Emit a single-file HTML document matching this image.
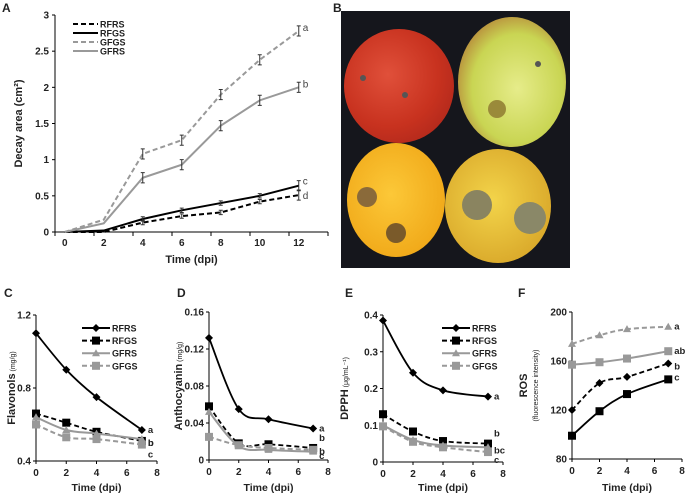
<!DOCTYPE html>
<html><head><meta charset="utf-8"><style>
body{margin:0;background:#fff;}
svg{display:block;font-family:"Liberation Sans",Arial,sans-serif;}
.t{font-weight:bold;font-size:10px;fill:#222;}
</style></head><body>
<svg id="fig" width="685" height="498">
<defs>
<radialGradient id="gRed" cx="40%" cy="40%" r="65%"><stop offset="0" stop-color="#e0503a"/><stop offset="0.7" stop-color="#c8321f"/><stop offset="1" stop-color="#b52a1c"/></radialGradient>
<radialGradient id="gGreen" cx="55%" cy="55%" r="60%"><stop offset="0" stop-color="#e6ec8a"/><stop offset="0.7" stop-color="#c9d553"/><stop offset="1" stop-color="#b78a3a"/></radialGradient>
<radialGradient id="gYel" cx="45%" cy="45%" r="60%"><stop offset="0" stop-color="#fcc838"/><stop offset="1" stop-color="#f0a818"/></radialGradient>
<radialGradient id="gYel2" cx="45%" cy="45%" r="60%"><stop offset="0" stop-color="#f3d44a"/><stop offset="1" stop-color="#d9a82a"/></radialGradient>
</defs>
<g>
<rect x="341" y="11" width="229" height="257" fill="#15161c"/>
<ellipse cx="399" cy="86" rx="55" ry="57" fill="url(#gRed)"/>
<ellipse cx="512" cy="82" rx="54" ry="65" fill="url(#gGreen)"/>
<ellipse cx="396" cy="200" rx="49" ry="57" fill="url(#gYel)"/>
<ellipse cx="498" cy="206" rx="53" ry="57" fill="url(#gYel2)"/>
<circle cx="363" cy="78" r="3" fill="#555"/><circle cx="405" cy="95" r="3" fill="#555"/>
<circle cx="538" cy="64" r="3" fill="#555"/><circle cx="497" cy="109" r="9" fill="#9a8a3a"/>
<circle cx="367" cy="197" r="10" fill="#8a6a3a"/><circle cx="396" cy="233" r="10" fill="#7a5a2a"/>
<circle cx="477" cy="205" r="15" fill="#8a8460"/><circle cx="530" cy="218" r="16" fill="#8a8868"/>
</g>
<text x="2" y="12" class="t" font-size="12" style="font-size:12px">A</text>
<text x="333" y="12" class="t" style="font-size:12px">B</text>
<text x="4" y="297" class="t" style="font-size:12px">C</text>
<text x="177" y="297" class="t" style="font-size:12px">D</text>
<text x="345" y="297" class="t" style="font-size:12px">E</text>
<text x="518" y="297" class="t" style="font-size:12px">F</text>
</svg>
<script>
// Panel A data
const aCategories=[0,2,4,6,8,10,12];
const aRFRS=[0,0,0.13,0.22,0.27,0.42,0.51];
const aRFGS=[0,0.02,0.18,0.30,0.40,0.50,0.64];
const aGFGS=[0,0.17,1.08,1.27,1.90,2.38,2.78];
const aGFRS=[0,0.12,0.75,0.93,1.47,1.82,2.00];
const aYTicks=[0,0.5,1,1.5,2,2.5,3];
const aLetters=['d','c','a','b'];
// Panels C-F share x
const cdefX=[0,2,4,7];
const xTicks8=[0,2,4,6,8];
const cRFRS=[1.10,0.90,0.75,0.57], cRFGS=[0.66,0.61,0.56,0.51], cGFRS=[0.64,0.57,0.55,0.52], cGFGS=[0.60,0.53,0.52,0.49];
const cYTicks=[0.4,0.8,1.2];
const dRFRS=[0.132,0.055,0.044,0.034], dRFGS=[0.058,0.018,0.017,0.013], dGFRS=[0.052,0.015,0.011,0.009], dGFGS=[0.025,0.016,0.013,0.011];
const dYTicks=[0,0.04,0.08,0.12,0.16];
const eRFRS=[0.385,0.243,0.195,0.178], eRFGS=[0.130,0.083,0.057,0.050], eGFRS=[0.100,0.060,0.045,0.040], eGFGS=[0.097,0.055,0.040,0.027];
const eYTicks=[0,0.1,0.2,0.3,0.4];
const fRFRS=[120,142,147,158], fRFGS=[99,119,133,145], fGFRS=[157,159,162,168], fGFGS=[174,181,186,188];
const fYTicks=[80,120,160,200];

const svg=document.getElementById('fig');
const NS='http://www.w3.org/2000/svg';
function mk(tag,attrs,parent){const e=document.createElementNS(NS,tag);for(const k in attrs)e.setAttribute(k,attrs[k]);(parent||svg).appendChild(e);return e;}
function txt(x,y,s,attrs,parent){const e=mk('text',Object.assign({x:x,y:y,'font-size':10,'font-weight':'bold',fill:'#222'},attrs||{}),parent);e.textContent=s;return e;}

// ---- Panel A ----
(function(){
 const g=mk('g',{});
 
 
 const x0=55,x1=328,yTop=15,yBot=232,ymax=3;
 const step=(x1-x0)/7;
 const xs=i=>x0+step*(i+0.25);
 const ys=v=>yBot-(v/ymax)*(yBot-yTop);
 mk('line',{x1:x0,y1:yTop,x2:x0,y2:yBot,stroke:'#000'},g);
 mk('line',{x1:x0,y1:yBot,x2:x1,y2:yBot,stroke:'#000'},g);
 aYTicks.forEach(v=>{mk('line',{x1:x0-3,y1:ys(v),x2:x0,y2:ys(v),stroke:'#000'},g);
  const t=txt(x0-6,ys(v)+3.5,String(v),{'text-anchor':'end'},g);});
 for(let i=0;i<=7;i++)mk('line',{x1:x0+step*i,y1:yBot,x2:x0+step*i,y2:yBot+4,stroke:'#000'},g);
 aCategories.forEach((c,i)=>{const t=txt(xs(i),246,String(c),{'text-anchor':'middle'},g);});
 const xt=txt((x0+x1)/2,263,'Time (dpi)',{'text-anchor':'middle','font-size':11},g);
 
 const yt=txt(0,0,'Decay area (cm²)',{'text-anchor':'middle','font-size':11,transform:'translate(22,'+((yTop+yBot)/2)+') rotate(-90)'},g);
 
 const series=[[aRFRS,'#000','5,3','RFRS'],[aRFGS,'#000','','RFGS'],[aGFGS,'#999','5,3','GFGS'],[aGFRS,'#999','','GFRS']];
 series.forEach((s,si)=>{
  const pts=s[0].map((v,i)=>xs(i)+','+ys(v)).join(' ');
  const p=mk('polyline',{points:pts,fill:'none',stroke:s[1],'stroke-width':2,'stroke-dasharray':s[2]},g);
  
  s[0].forEach((v,i)=>{if(i<2)return;const e=v>0.5?0.07:0.03;
   mk('path',{d:`M${xs(i)-2},${ys(v+e)}h4M${xs(i)},${ys(v+e)}V${ys(v-e)}M${xs(i)-2},${ys(v-e)}h4`,stroke:'#333','stroke-width':1,fill:'none'},g);});
  const last=s[0][s[0].length-1];
  const l=txt(xs(6)+4,ys(last)+(si==0?4:si==1?-1:0),aLetters[si],{'font-weight':'normal','font-size':10,fill:'#444'},g);
  
  const ly=24+si*9;
  const ll=mk('line',{x1:73,y1:ly,x2:98,y2:ly,stroke:s[1],'stroke-width':2,'stroke-dasharray':s[2]},g);
  
  const lt=txt(100,ly+3.5,s[3],{'font-size':9},g);
 });
})();

// ---- Panels C-F ----
function marker(g,type,x,y,color){
 if(type=='d')mk('path',{d:`M${x},${y-4}L${x+4},${y}L${x},${y+4}L${x-4},${y}Z`,fill:color},g);
 else if(type=='s')mk('rect',{x:x-4,y:y-4,width:8,height:8,fill:color},g);
 else mk('path',{d:`M${x},${y-4}L${x+4},${y+3}L${x-4},${y+3}Z`,fill:color},g);
}
function smooth(pts){let d=`M${pts[0][0]},${pts[0][1]}`;
 for(let i=0;i<pts.length-1;i++){const p0=pts[i-1]||pts[i],p1=pts[i],p2=pts[i+1],p3=pts[i+2]||p2;
  d+=`C${p1[0]+(p2[0]-p0[0])/6},${p1[1]+(p2[1]-p0[1])/6} ${p2[0]-(p3[0]-p1[0])/6},${p2[1]-(p3[1]-p1[1])/6} ${p2[0]},${p2[1]}`;}
 return d;}
function panel(o){
 const g=mk('g',{});
 
 
 const ys=v=>o.yBot-(v-o.ymin)/(o.ymax-o.ymin)*(o.yBot-o.yTop);
 const xs=v=>o.x0+v/8*(o.x1-o.x0);
 mk('line',{x1:o.x0,y1:o.yTop,x2:o.x0,y2:o.yBot,stroke:'#000'},g);
 mk('line',{x1:o.x0,y1:o.yBot,x2:o.x1,y2:o.yBot,stroke:'#000'},g);
 o.yt.forEach(v=>{mk('line',{x1:o.x0-3,y1:ys(v),x2:o.x0,y2:ys(v),stroke:'#000'},g);
  const t=txt(o.x0-5,ys(v)+3.5,String(v),{'text-anchor':'end'},g);});
 xTicks8.forEach(v=>{mk('line',{x1:xs(v),y1:o.yBot,x2:xs(v),y2:o.yBot+3,stroke:'#000'},g);
  const t=txt(xs(v),o.yBot+15,String(v),{'text-anchor':'middle'},g);});
 const xt=txt((o.x0+o.x1)/2,491,'Time (dpi)',{'text-anchor':'middle','font-size':10.5},g);
 
 const yt=txt(0,0,'',{'text-anchor':'middle',transform:`translate(${o.ytx},${(o.yTop+o.yBot)/2}) rotate(-90)`},g);
 
 const ts1=mk('tspan',{'font-size':11},yt);ts1.textContent=o.title;
 if(o.unit){const ts2=mk('tspan',{'font-size':7,'font-weight':'normal'},yt);ts2.textContent=' '+o.unit;}
 if(o.sub){const s=txt(0,0,o.sub,{'text-anchor':'middle','font-size':7,'font-weight':'normal',transform:`translate(${o.ytx+11},${(o.yTop+o.yBot)/2}) rotate(-90)`},g);}
 o.series.forEach((s,si)=>{
  const pts=s.vals.map((v,i)=>[xs(cdefX[i]),ys(v)]);
  const p=mk('path',{d:smooth(pts),fill:'none',stroke:s.c,'stroke-width':s.c=='#000'?1.8:2,'stroke-dasharray':s.dash},g);
  
  pts.forEach(q=>marker(g,s.m,q[0],q[1],s.c));
  if(s.l){const l=txt(xs(7)+6,ys(s.vals[3])+3+(s.ld||0),s.l,{'font-size':9.5},g);}
  if(o.leg){const ly=o.legY+si*12.6,lx=o.legX;
   const ll=mk('line',{x1:lx,y1:ly,x2:lx+28,y2:ly,stroke:s.c,'stroke-width':2,'stroke-dasharray':s.dash},g);
   
   marker(g,s.m,lx+14,ly,s.c);
   const lt=txt(lx+30,ly+3.5,s.n,{'font-size':9},g);}
 });
}
const S=(vals,n,c,dash,m,l,ld)=>({vals,n,c,dash,m,l,ld});
panel({name:'flavonols-chart',x0:36,x1:157,yTop:315,yBot:461,ymin:0.4,ymax:1.2,yt:cYTicks,ytx:15,title:'Flavonols',unit:'(mg/g)',leg:true,legX:82,legY:328,
 series:[S(cRFRS,'RFRS','#000','','d','a'),S(cRFGS,'RFGS','#000','5,3','s','b',2),S(cGFRS,'GFRS','#999','','t','b',4),S(cGFGS,'GFGS','#999','5,3','s','c',10)]});
panel({name:'anthocyanin-chart',x0:209,x1:328,yTop:312,yBot:460,ymin:0,ymax:0.16,yt:dYTicks,ytx:182,title:'Anthocyanin',unit:'(mg/g)',
 series:[S(dRFRS,'RFRS','#000','','d','a'),S(dRFGS,'RFGS','#000','5,3','s','b',-10),S(dGFRS,'GFRS','#999','','t','b',0),S(dGFGS,'GFGS','#999','5,3','s','c',6)]});
panel({name:'dpph-chart',x0:383,x1:503,yTop:315,yBot:462,ymin:0,ymax:0.4,yt:eYTicks,ytx:348,title:'DPPH',unit:'(μg/mL⁻¹)',leg:true,legX:442,legY:328,
 series:[S(eRFRS,'RFRS','#000','','d','a'),S(eRFGS,'RFGS','#000','5,3','s','b',-10),S(eGFRS,'GFRS','#999','','t','bc',3),S(eGFGS,'GFGS','#999','5,3','s','c',8)]});
panel({name:'ros-chart',x0:572,x1:682,yTop:312,yBot:459,ymin:80,ymax:200,yt:fYTicks,ytx:527,title:'ROS',sub:'(fluorescence intensity)',
 series:[S(fGFGS,'GFGS','#999','5,3','t','a'),S(fGFRS,'GFRS','#999','','s','ab'),S(fRFRS,'RFRS','#000','5,3','d','b',3),S(fRFGS,'RFGS','#000','','s','c',-2)]});
</script>
</body></html>
